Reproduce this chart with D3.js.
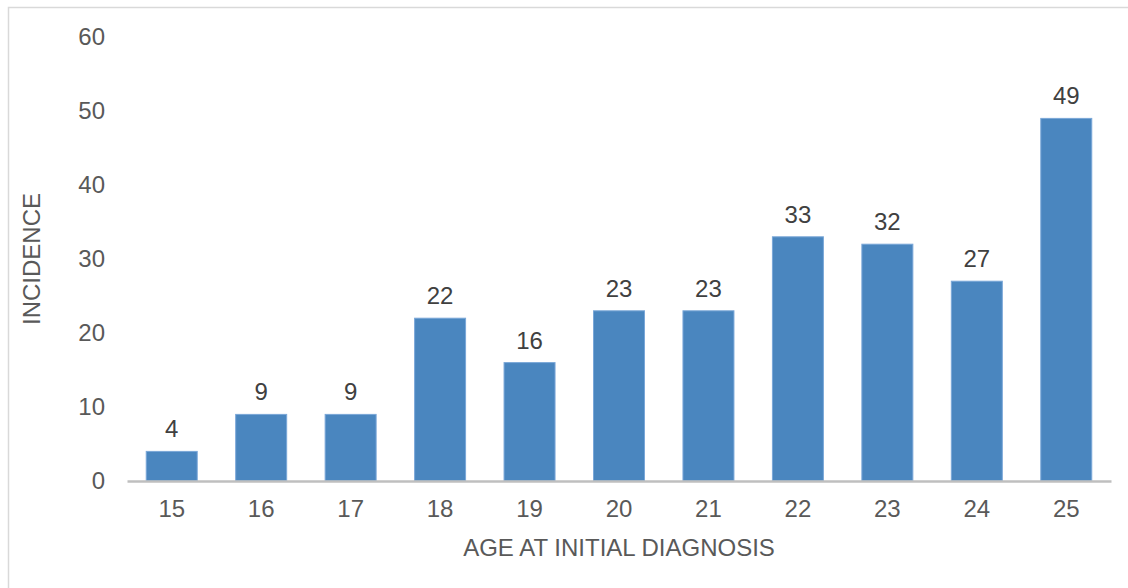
<!DOCTYPE html>
<html>
<head>
<meta charset="utf-8">
<script src="https://cdn.jsdelivr.net/npm/d3@7"></script>
<style>
  html, body { margin: 0; padding: 0; background: #fff; }
  svg { display: block; font-family: "Liberation Sans", Arial, sans-serif; }
</style>
</head>
<body>
<svg id="chart" width="1128" height="588"></svg>
<script>
const categories = ["15","16","17","18","19","20","21","22","23","24","25"];
const incidence = [4, 9, 9, 22, 16, 23, 23, 33, 32, 27, 49];
const yTicks = [0, 10, 20, 30, 40, 50, 60];
const xTitle = "AGE AT INITIAL DIAGNOSIS";
const yTitle = "INCIDENCE";

const svg = d3.select("#chart");
const W = 1128, H = 588;
const margin = {left: 127, right: 17, top: 37, bottom: 107};
const plotW = W - margin.left - margin.right;
const plotH = H - margin.top - margin.bottom;

// frame
svg.append("rect")
  .attr("x", 8.5).attr("y", 7.5)
  .attr("width", 1130).attr("height", 600)
  .attr("fill", "#fff").attr("stroke", "#d9d9d9").attr("stroke-width", 1.5);

const g = svg.append("g").attr("transform", `translate(${margin.left},${margin.top})`);

const x = d3.scaleBand().domain(categories).range([0, plotW]).paddingInner(0.43).paddingOuter(0.215);
const y = d3.scaleLinear().domain([0, 60]).range([plotH, 0]);

const fontSize = 24;
const textColor = "#595959";

// y axis labels
const yAxis = d3.axisLeft(y).tickValues(yTicks).tickSize(0).tickPadding(22);
const ya = g.append("g").call(yAxis);
ya.select(".domain").remove();
ya.selectAll("text").attr("font-size", fontSize).attr("fill", textColor)
  .attr("font-family", "Liberation Sans, Arial, sans-serif");

// bars
g.selectAll("rect.bar").data(incidence).enter().append("rect")
  .attr("class", "bar")
  .attr("x", (d, i) => x(categories[i]))
  .attr("y", d => y(d))
  .attr("width", x.bandwidth())
  .attr("height", d => plotH - y(d))
  .attr("fill", "#4a86bf")
  .attr("stroke", "#7aa7d8")
  .attr("stroke-width", 1);

// x axis
const xAxis = d3.axisBottom(x).tickSize(0).tickPadding(19);
const xa = g.append("g").attr("transform", `translate(0,${plotH})`).call(xAxis);
xa.select(".domain").attr("stroke", "#bfbfbf").attr("stroke-width", 2.5);
xa.selectAll("text").attr("font-size", fontSize).attr("fill", textColor)
  .attr("font-family", "Liberation Sans, Arial, sans-serif");

// data labels
g.selectAll("text.lbl").data(incidence).enter().append("text")
  .attr("class", "lbl")
  .attr("x", (d, i) => x(categories[i]) + x.bandwidth() / 2)
  .attr("y", d => y(d) - 14)
  .attr("text-anchor", "middle")
  .attr("font-size", fontSize)
  .attr("fill", "#404040")
  .text(d => d);

// axis titles
svg.append("text")
  .attr("x", margin.left + plotW / 2)
  .attr("y", 556)
  .attr("text-anchor", "middle")
  .attr("font-size", fontSize)
  .attr("fill", textColor)
  .text(xTitle);

svg.append("text")
  .attr("transform", `translate(40,${margin.top + plotH / 2}) rotate(-90)`)
  .attr("text-anchor", "middle")
  .attr("font-size", fontSize)
  .attr("fill", textColor)
  .text(yTitle);
</script>
</body>
</html>
